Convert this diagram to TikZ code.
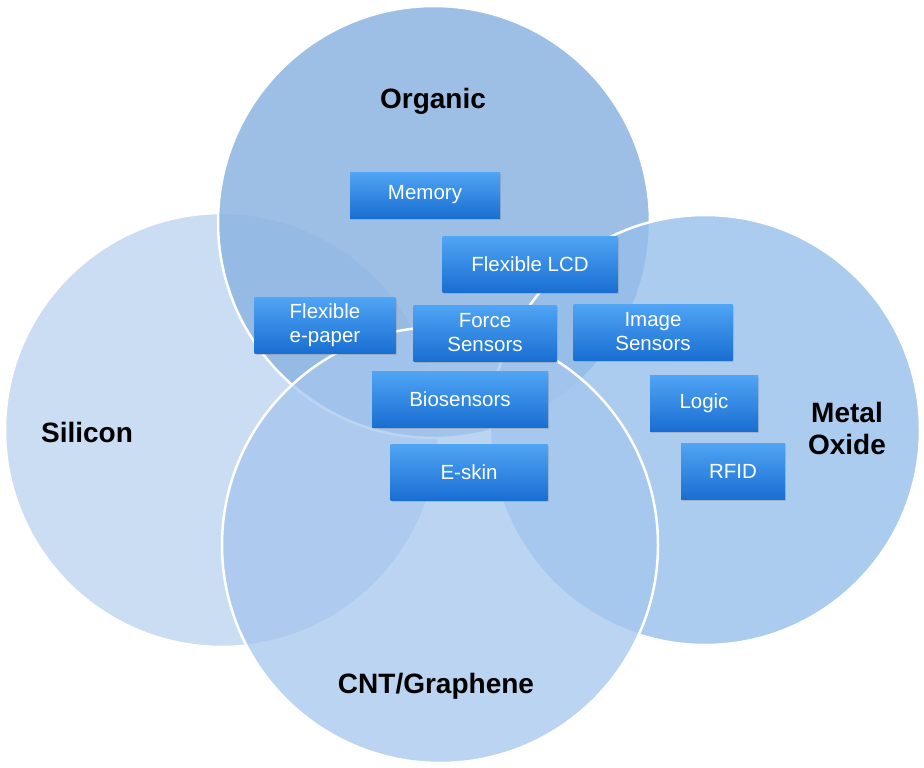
\documentclass[tikz,border=0pt]{standalone}
\usepackage{fontspec}
\setmainfont{Liberation Sans}
\usetikzlibrary{shadows}
\definecolor{bxtop}{RGB}{80,165,245}
\definecolor{bxbot}{RGB}{25,110,210}
\definecolor{cSi}{RGB}{203,221,243}
\definecolor{cOr}{RGB}{140,180,225}
\definecolor{cMO}{RGB}{150,190,235}
\definecolor{cCNT}{RGB}{165,198,238}
\begin{document}
\begin{tikzpicture}[x=1pt,y=-1pt,
 circ/.style={draw=white,line width=2.5pt},
 box/.style={rectangle,minimum height=56pt,top color=bxtop,bottom color=bxbot,text=white,font=\fontsize{20.5}{24}\selectfont,align=center,inner sep=2pt,drop shadow={shadow xshift=1pt,shadow yshift=-2pt,opacity=0.3}},
 lab/.style={font=\bfseries\fontsize{28}{32}\selectfont,align=center}]
\useasboundingbox (0,0) rectangle (924,768);
\fill[white] (0,0) rectangle (924,768);
\path[circ,fill=cSi] (222,430) circle (217);
\path[circ,fill=cOr,fill opacity=0.85] (434,222) circle (216);
\path[circ,fill=cMO,fill opacity=0.8] (705,430) circle (215);
\path[circ,fill=cCNT,fill opacity=0.75] (440,545) circle (218);
\node[lab] (org) at (433,101) {Organic};
\node[lab] (si) at (87,432) {Silicon};
\node[lab] (mo) at (847,428) {Metal\\Oxide};
\node[lab] (cnt) at (436,686) {CNT/Graphene};
\node[box,minimum width=150pt,minimum height=46pt] (mem) at (425,195) {Memory};
\node[box,minimum width=175pt] (lcd) at (530,264) {Flexible LCD};
\node[box,minimum width=141pt] (ep) at (325,325) {Flexible\\e-paper};
\node[box,minimum width=143pt] (fs) at (485,333) {Force\\Sensors};
\node[box,minimum width=159pt] (is) at (653,332) {Image\\Sensors};
\node[box,minimum width=176pt] (bio) at (460,399) {Biosensors};
\node[box,minimum width=108pt] (log) at (704,403) {Logic};
\node[box,minimum width=157pt] (es) at (469,472) {E-skin};
\node[box,minimum width=104pt] (rf) at (733,471) {RFID};
\end{tikzpicture}
\end{document}
